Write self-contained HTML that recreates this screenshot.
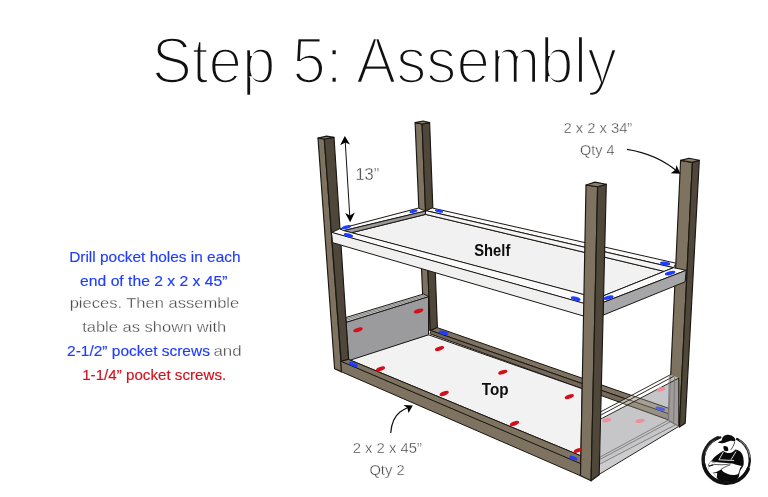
<!DOCTYPE html>
<html lang="en">
<head>
<meta charset="utf-8">
<title>Step 5: Assembly</title>
<style>
html,body{margin:0;padding:0;background:#fff;}
body{width:768px;height:497px;overflow:hidden;position:relative;font-family:"Liberation Sans",sans-serif;}
svg{position:absolute;left:0;top:0;display:block;}
svg{will-change:transform;}
.o{stroke:#1b1712;stroke-width:1;stroke-linejoin:round;stroke-linecap:round;}
.l{fill:#7e7261;}
.d{fill:#50473b;}
.t{fill:#8a7e6c;}
.ln{fill:none;stroke:#1b1712;stroke-width:1;stroke-linecap:round;}
.lab{font-family:"Liberation Sans",sans-serif;fill:#444;stroke:#fff;stroke-width:0.3px;}
.gr{fill:#444;stroke:#fff;stroke-width:0.3px;}
.bl{stroke:#1f3cff;stroke-width:0.15px;}
.rd{stroke:#d40f1c;stroke-width:0.15px;}
.bold{font-family:"Liberation Sans",sans-serif;font-weight:bold;fill:#0c0c0c;}
.blue{fill:#1f3cff;}
.red{fill:#d40f1c;}
</style>
</head>
<body>
<svg width="768" height="497" viewBox="0 0 768 497">
<rect width="768" height="497" fill="#fff"/>

<!-- title -->
<text id="title" x="384.4" y="82.6" text-anchor="middle" font-family="Liberation Sans, sans-serif" font-size="64" fill="#111" stroke="#fff" stroke-width="2.6" textLength="465.5" lengthAdjust="spacingAndGlyphs">Step 5: Assembly</text>

<!-- ===== back posts ===== -->
<g id="post4" class="o" style="stroke-width:1.15px">
  <polygon class="l" points="680.6,160.4 692.4,162.4 679.4,427 668.6,420"/>
  <polygon class="d" points="692.4,162.4 699.3,160.3 685.2,423.2 679.4,427"/>
  <polygon class="t" points="680.6,160.4 689,158.2 699.3,160.3 692.4,162.4"/>
</g>
<g id="post2" class="o" style="stroke-width:1.15px">
  <polygon class="l" points="415.1,122.6 422.1,124 430.3,330.3 424.2,330"/>
  <polygon class="d" points="422.1,124 429.6,122.6 437.4,327.7 430.3,330.3"/>
  <polygon class="t" points="415.1,122.6 423.1,121 429.6,122.6 422.1,124"/>
</g>

<!-- ===== bottom back rail ===== -->
<g id="backrail" class="o">
  <polygon class="l" points="437.4,327.7 668.5,408.3 667.5,413.5 431.4,330.8"/>
  <polygon fill="#74685a" points="431.4,330.8 667.5,413.5 667.5,419.5 430.3,333.9"/>
</g>

<!-- bottom panel -->
<polygon class="o" fill="#f2f2f2" points="428.5,334.8 582.2,388.7 580.8,455.8 348.5,359.4"/>

<!-- left side apron -->
<g id="apronL" class="o">
  <polygon fill="#9b9b9d" points="346.4,322.2 428.5,296.6 428.5,334.8 349.2,360.5"/>
  <polygon fill="#dcdcdc" points="346.2,317.4 423.6,294 428.5,296.6 346.4,322.2"/>
  <line x1="346.3" y1="318.9" x2="425.2" y2="294.9" stroke="#4a4a4a" stroke-width="0.6"/>
  <line x1="346.3" y1="320.4" x2="426.8" y2="295.7" stroke="#4a4a4a" stroke-width="0.6"/>
</g>

<!-- ===== front-left post ===== -->
<g id="post1" class="o" style="stroke-width:1.15px">
  <polygon class="l" points="318,138.1 324.3,139 341.7,371.9 334.6,368.8"/>
  <polygon class="d" points="324.3,139 334,137.4 348.5,359.4 341.2,361.4"/>
  <polygon class="t" points="318,138.1 326.6,136.1 334,137.4 324.3,139"/>
</g>

<!-- ===== bottom front rail ===== -->
<g id="frontrail" class="o">
  <polygon class="l" points="341.2,361.4 348.5,359.4 580.8,455.8 580.8,463.7"/>
  <polygon class="l" points="341.2,361.4 580.8,463.7 580.5,475.8 341.7,371.9"/>
</g>

<!-- ===== shelf ===== -->
<g id="shelf" class="o">
  <!-- panel -->
  <polygon fill="#f1f1f1" points="351.7,232.7 425.6,214.4 664.2,271.4 597.5,298.2"/>
  <!-- left rail top + inner face -->
  <polygon fill="#fafafa" points="339.6,228.8 418.3,208.1 425.6,211 343.8,230.6"/>
  <polygon fill="#9a9a9c" points="343.8,230.6 425.6,211 425.6,214.4 351.7,232.7"/>
  <!-- back rail top + inner face -->
  <polygon fill="#fafafa" points="432.6,208.1 676,263.2 673.6,267.7 426.2,210.7"/>
  <polygon fill="#f4f4f4" points="426.2,210.7 673.6,267.7 664.2,271.4 425.6,214.4"/>
  <!-- right rail top + outer face -->
  <polygon fill="#fafafa" points="597.5,298.2 664.2,271.4 673.6,267.7 686.2,270.3 603.3,302.4"/>
  <polygon fill="#a6a6a8" points="603.3,302.4 686.2,270.3 685.1,281.8 603,315.2"/>
  <!-- front rail top + face -->
  <polygon fill="#fafafa" points="331.8,232.4 339.6,228.8 343.8,230.6 351.7,232.7 597.5,298.2 603.3,302.4 583.8,303.3"/>
  <polygon fill="#f0f0f0" points="331.8,232.4 583.8,303.3 603.3,302.4 603,315.2 583.5,316 332.8,242.7"/>
</g>

<!-- ghost apron right -->
<g id="ghost">
  <polygon fill="#aeaeb1" fill-opacity="0.7" points="601.5,418.6 678.7,378.1 678.7,426.4 599,474.5"/>
  <polygon fill="#ffffff" fill-opacity="0.55" points="601.5,411.4 670.2,374.8 678.7,378.1 601.5,418.6"/>
  <polygon fill="#d0d0d2" fill-opacity="0.6" points="600,464 675.4,424.8 678.7,426.4 599,474.5"/>
  <polygon fill="#a69f93" points="640.05,398.4 668.3,408.2 667.8,413.4 633.9,401.6"/>
  <polygon fill="#979083" points="633.9,401.6 667.8,413.4 667.8,419.6 627.4,405"/>
  <polygon fill="#cfc9bf" points="631.5,395.4 640.05,398.4 633.9,401.6 625.5,398.6"/>
  <polygon fill="#c0baaf" points="625.5,398.6 633.9,401.6 627.4,405 619.1,402"/>
  <g fill="none" stroke="#3a3631" stroke-width="0.8" stroke-linecap="round">
    <line x1="631.5" y1="395.4" x2="668.3" y2="408.2"/>
    <line x1="625.5" y1="398.6" x2="667.8" y2="413.4"/>
    <line x1="619.1" y1="402" x2="667.8" y2="419.6"/>
  </g>
  <g fill="none" stroke="#1b1712" stroke-width="0.9" stroke-linecap="round" stroke-linejoin="round">
    <polyline points="601.5,411.4 670.2,374.8"/>
    <polyline points="601.5,414.7 673.4,376.5"/>
    <polyline points="601.5,418.6 678.7,378.1 678.7,426.4 599,474.5"/>
  </g>
  <g fill="none" stroke="#707070" stroke-width="0.8" stroke-linecap="round">
    <line x1="669.3" y1="376" x2="668.3" y2="419"/>
    <line x1="674.6" y1="377.5" x2="673.6" y2="423.5"/>
    <line x1="600" y1="457.1" x2="668.2" y2="420.2"/>
    <line x1="600" y1="459.4" x2="670.8" y2="421.5"/>
    <line x1="600" y1="464" x2="675.4" y2="424.8"/>
    <line x1="667.3" y1="420.2" x2="678.7" y2="426.4"/>
  </g>
</g>

<!-- ===== front-right post ===== -->
<g id="post3" class="o" style="stroke-width:1.15px">
  <polygon class="l" points="586,185 597.6,186.7 591.1,480.8 580.5,475.8"/>
  <polygon class="d" points="597.6,186.7 606.3,184.2 599.2,474.7 591.1,480.8"/>
  <polygon class="t" points="586,185 595,182.1 606.3,184.2 597.6,186.7"/>
</g>

<!-- ===== screws ===== -->
<g id="screws">
  <g class="blue">
    <ellipse cx="346.4" cy="227.2" rx="4.6" ry="1.7" transform="rotate(-14 346.4 227.2)"/>
    <ellipse cx="348.5" cy="235.3" rx="4.8" ry="1.9" transform="rotate(15 348.5 235.3)"/>
    <ellipse cx="413.5" cy="211.3" rx="4.2" ry="1.5" transform="rotate(-14 413.5 211.3)"/>
    <ellipse cx="439" cy="211" rx="4.2" ry="1.5" transform="rotate(13 439 211)"/>
    <ellipse cx="575.7" cy="298.6" rx="5" ry="2" transform="rotate(15 575.7 298.6)"/>
    <ellipse cx="608.5" cy="297.6" rx="5.2" ry="2" transform="rotate(-14 608.5 297.6)"/>
    <ellipse cx="665.1" cy="263.5" rx="5.2" ry="1.9" transform="rotate(8 665.1 263.5)"/>
    <ellipse cx="670.1" cy="273.1" rx="5.4" ry="2" transform="rotate(-14 670.1 273.1)"/>
    <ellipse cx="353.3" cy="364.3" rx="4.8" ry="1.9" transform="rotate(22 353.3 364.3)"/>
    <ellipse cx="443.7" cy="332.9" rx="5" ry="1.9" transform="rotate(14 443.7 332.9)"/>
    <ellipse cx="573.5" cy="458" rx="4.3" ry="1.7" transform="rotate(22 573.5 458)"/>
  </g>
  <g class="red">
    <ellipse cx="358" cy="329.8" rx="4.9" ry="2" transform="rotate(-18 358 329.8)"/>
    <ellipse cx="418.6" cy="311" rx="4.9" ry="2" transform="rotate(-18 418.6 311)"/>
    <ellipse cx="439.5" cy="348.6" rx="4.8" ry="2" transform="rotate(-18 439.5 348.6)"/>
    <ellipse cx="380.5" cy="368.9" rx="4.8" ry="2" transform="rotate(-20 380.5 368.9)"/>
    <ellipse cx="502.8" cy="372.2" rx="4.8" ry="2" transform="rotate(-18 502.8 372.2)"/>
    <ellipse cx="569.3" cy="396.7" rx="4.8" ry="2" transform="rotate(-20 569.3 396.7)"/>
    <ellipse cx="444.2" cy="393.5" rx="4.8" ry="2" transform="rotate(-20 444.2 393.5)"/>
    <ellipse cx="514.5" cy="423.5" rx="4.8" ry="2" transform="rotate(-20 514.5 423.5)"/>
    <ellipse cx="577.5" cy="450.5" rx="4" ry="1.9" transform="rotate(-22 577.5 450.5)"/>
  </g>
  <g fill="#e8919a">
    <ellipse cx="606.8" cy="420.2" rx="4.6" ry="2" transform="rotate(-12 606.8 420.2)"/>
    <ellipse cx="640.1" cy="420.9" rx="4.6" ry="2" transform="rotate(-10 640.1 420.9)"/>
    <ellipse cx="661" cy="389.2" rx="4.4" ry="2" transform="rotate(-14 661 389.2)"/>
  </g>
  <ellipse cx="660.4" cy="408.8" rx="5" ry="1.9" fill="#5563d6" transform="rotate(14 660.4 408.8)"/>
</g>

<!-- ===== arrows ===== -->
<g id="arrows">
  <line x1="345.2" y1="141" x2="349.8" y2="217" stroke="#111" stroke-width="1"/>
  <polygon fill="#000" points="344.8,135.9 340.1,145.2 345.3,142.4 350,144.6"/>
  <polygon fill="#000" points="350.2,222.2 345.2,213.1 349.9,215.6 354.8,212.6"/>
  <path d="M627,149.3 C647,152.4 665,160.8 678.4,172.2" fill="none" stroke="#111" stroke-width="1.2"/>
  <polygon fill="#000" points="680.4,173.8 670.7,173.2 675.6,169.8 676.4,165"/>
  <path d="M390.7,433 C391.4,424 394,416.8 400,412.1 C403,409.9 406,408.3 409,407" fill="none" stroke="#111" stroke-width="1.25"/>
  <polygon fill="#000" points="412.8,405.4 408.5,412.9 407.4,408 403.5,405"/>
</g>

<!-- ===== labels ===== -->
<text class="lab" x="355.4" y="180.4" font-size="15.6" textLength="23.8" lengthAdjust="spacingAndGlyphs">13”</text>
<text class="lab" x="563.4" y="132.7" font-size="13.9" textLength="68.9" lengthAdjust="spacingAndGlyphs">2 x 2 x 34”</text>
<text class="lab" x="580" y="154.6" font-size="13.9" textLength="34.6" lengthAdjust="spacingAndGlyphs">Qty 4</text>
<text class="lab" x="352.7" y="452.5" font-size="13.9" textLength="69.2" lengthAdjust="spacingAndGlyphs">2 x 2 x 45”</text>
<text class="lab" x="369.4" y="474.8" font-size="13.9" textLength="35.2" lengthAdjust="spacingAndGlyphs">Qty 2</text>

<text class="bold" x="474.3" y="255.5" font-size="16.2" textLength="36" lengthAdjust="spacingAndGlyphs">Shelf</text>
<text class="bold" x="481.8" y="394.8" font-size="15.8" textLength="26.8" lengthAdjust="spacingAndGlyphs">Top</text>

<!-- ===== instruction text ===== -->
<g font-family="Liberation Sans, sans-serif" font-size="14.4">
  <text class="blue bl" x="69.2" y="261.7" textLength="171.3" lengthAdjust="spacingAndGlyphs">Drill pocket holes in each</text>
  <text class="blue bl" x="80.1" y="285.7" textLength="147.4" lengthAdjust="spacingAndGlyphs">end of the 2 x 2 x 45”</text>
  <text class="gr" x="69.7" y="308.3" textLength="169.5" lengthAdjust="spacingAndGlyphs">pieces. Then assemble</text>
  <text class="gr" x="82.2" y="332.2" textLength="144" lengthAdjust="spacingAndGlyphs">table as shown with</text>
  <text class="blue bl" x="67.1" y="356.2" textLength="142.8" lengthAdjust="spacingAndGlyphs">2-1/2” pocket screws</text>
  <text class="gr" x="213.4" y="356.2" textLength="28.2" lengthAdjust="spacingAndGlyphs">and</text>
  <text class="red rd" x="82.2" y="379.9" textLength="144" lengthAdjust="spacingAndGlyphs">1-1/4” pocket screws.</text>
</g>

<!-- ===== logo ===== -->
<g id="logo" transform="translate(726.7 459.6)">
  <!-- brush ring -->
  <path d="M10.4,-20.6 A23.1,23.1 0 1 1 -6.4,-22.2" fill="none" stroke="#141414" stroke-width="2.4" stroke-linecap="round"/>
  <path d="M21.5,9.5 A23.5,23.5 0 0 1 -23.2,4" fill="none" stroke="#101010" stroke-width="3.6" stroke-linecap="round"/>
  <path d="M-23.4,3 A23.6,23.6 0 0 1 -9,-21.8" fill="none" stroke="#1a1a1a" stroke-width="3.4" stroke-linecap="round"/>
  <path d="M12.5,-19.6 A23.3,23.3 0 0 1 23.2,-2" fill="none" stroke="#fff" stroke-width="0.7" stroke-opacity="0.75"/>
  <path d="M-21.6,-6 A22.6,22.6 0 0 1 -12,-19.2" fill="none" stroke="#fff" stroke-width="0.5" stroke-opacity="0.6"/>
  <!-- body -->
  <path fill="#0a0a0a" d="M-3.5,-8.8 C-5,-7.6 -8.5,-5.6 -11,-3.5 C-12.5,-2.2 -13.5,-1 -14.2,0 C-15.5,1.5 -17.6,3.4 -18.6,5.5 C-19,7 -18.8,8.4 -18,9.6 C-17.4,11 -16.6,12 -15.5,12.6 L-13.3,13.6 L-9.8,18.2 C-9,19.6 -8.4,20.2 -7.6,20.8 C-3,22.6 4,22.8 9,20.6 C10.6,19.6 11.6,18.4 12.2,17 C12.6,15 12.8,13.4 13.2,12 C14,10.4 15,9 15.6,8 C16.4,6.6 17,5.4 17,4 C17.2,2.6 17,1.2 16.8,0 C16.8,-1.4 16.6,-2.6 16.2,-3.7 C15.4,-6 14.2,-7.8 12.7,-8.7 C11.4,-9.4 10,-10 8.6,-10.2 C7,-8 5,-6.8 2.8,-6.5 C0.6,-6.4 -2,-7.4 -3.5,-8.8 Z"/>
  <!-- head -->
  <path fill="#fff" d="M-3,-16.6 L8.2,-18.6 C8.4,-15 7.4,-12.4 5.6,-10.6 C4.6,-9.4 3.6,-8.8 2.6,-8.5 C0.6,-8.4 -1.6,-9 -3.2,-10.2 Z"/>
  <path fill="none" stroke="#0a0a0a" stroke-width="0.7" stroke-linecap="round" d="M7.9,-17.4 C7.4,-14.6 6,-12.4 4.3,-10.1"/>
  <path fill="#0a0a0a" d="M-3.2,-13.3 C-2.4,-14 -0.6,-13.8 0.6,-12.8 C1.4,-11.8 1.8,-10.2 1.4,-8.9 C0.4,-8.2 -1.4,-8.4 -2.4,-9.2 C-3.2,-10.2 -3.4,-12 -3.2,-13.3 Z"/>
  <!-- cap -->
  <path fill="#0a0a0a" d="M-8.9,-17 C-7.4,-18 -5.8,-18.8 -4.9,-19.3 C-4.6,-21.4 -3.8,-22.8 -2.8,-23.5 C-1.4,-24.6 0.2,-24.9 1.4,-24.9 C3.2,-24.8 4.6,-24.3 5.6,-23.7 C7.2,-22.8 8.2,-21.6 8.6,-20.4 C8.8,-19.6 8.6,-18.8 8.1,-18 C6.6,-18.8 5.2,-19 4,-18.9 C2,-18.4 -0.6,-17.2 -2.8,-16.6 C-5,-16.2 -7.4,-16.4 -8.9,-17 Z"/>
  <!-- straps / bib -->
  <g fill="none" stroke="#fff" stroke-width="0.85" stroke-linecap="round" stroke-linejoin="round">
    <polyline points="-3.5,-7.4 -7.8,0.2 7,0.9"/>
    <polyline points="9.2,-7.8 4.5,-0.2"/>
  </g>
  <!-- arms -->
  <path fill="#fff" d="M-18.4,6.6 C-17.8,4.4 -16.8,2.6 -15.8,2 C-14.4,1.6 -12.6,2 -11.2,2.3 C-8.6,2.7 -6,3 -3.5,3.2 C-1,3.4 2,3.5 4.5,3.7 C6,3.9 7.4,4.4 8.6,4.8 C10.4,5.4 12.6,5.9 15,6.3 C14.4,7 13.9,7.6 13.5,8.1 C13,10 12.4,12.4 11.4,14.3 C10,15 8.4,15.4 6.3,15.4 C4.4,15.2 2.6,14.8 1.2,14.3 C-0.4,13.8 -2,13.2 -3.1,12.5 C-4,11.6 -4.8,10.6 -5.3,9.6 C-7,10.6 -8.8,11.8 -10.4,12.5 C-12,13.2 -14.4,13.5 -16.2,13.2 C-17.2,12.2 -17.9,10.8 -18.3,9.4 C-18.6,8.4 -18.6,7.4 -18.4,6.6 Z"/>
  <g fill="none" stroke="#0a0a0a" stroke-linecap="round">
    <path d="M-17.3,6.3 C-15.4,5.6 -13.6,5 -11.8,4.9 C-9.4,4.9 -7,5.2 -4.6,5.2 C-2.4,5.1 0,4.8 1.9,4.5 L4.1,4.2" stroke-width="0.7"/>
    <path d="M-5.4,9.5 C-3.4,8.4 -1.4,7.2 0.4,6.4 C1.4,6 2.2,5.8 3,5.5" stroke-width="0.7"/>
    <path d="M-17.2,6.4 C-16,6 -15,5.6 -14,5.4" stroke-width="1.2"/>
  </g>
  <path fill="#9a9a9a" d="M-14.6,2.5 C-13,2.3 -11.4,2.7 -10.2,3.2 C-11.4,3.8 -13,3.8 -14.4,3.4 Z"/>
  <path fill="#fff" d="M-13.3,13.6 L-9.5,13.5 L-9.8,18 Z"/>
</g>
</svg>
</body>
</html>
